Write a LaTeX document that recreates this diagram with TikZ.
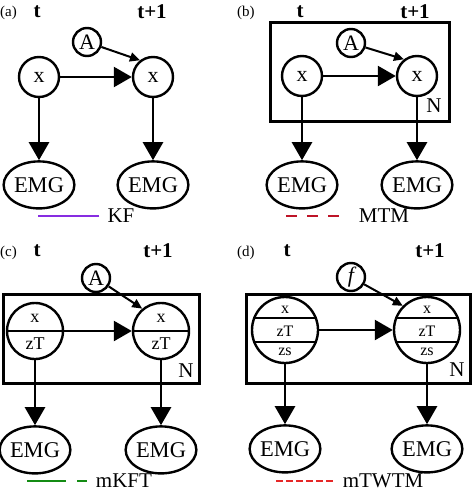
\documentclass[tikz,border=0pt]{standalone}
\usepackage{fontspec}
\setmainfont{Liberation Serif}
\usepackage{xcolor}
\usetikzlibrary{
  positioning,
  calc,
  shapes.geometric,
  arrows.meta,
}
\definecolor{kfcol}{RGB}{135,45,225}
\definecolor{mtmcol}{RGB}{190,20,40}
\definecolor{mkftcol}{RGB}{20,140,20}
\definecolor{twtmcol}{RGB}{230,40,40}
\tikzset{
  var node/.style={
    draw,
    black,
    line width=2.4pt,
    circle,
    inner sep=0pt,
    minimum size=40pt,
    font=\fontsize{22}{22}\selectfont
  },
  param/.style={
    var node,
    minimum size=28pt
  },
  split two/.style={
    var node,
    minimum size=56pt
  },
  split three/.style={
    var node,
    minimum size=66pt
  },
  emg/.style={
    draw,
    line width=2.4pt,
    ellipse,
    inner sep=0pt,
    minimum width=53pt,
    minimum height=47pt,
    font=\fontsize{22.5}{22.5}\selectfont
  },
  plate/.style={draw, line width=3pt},
  big arrow/.style={line width=2.5pt, -{Triangle[length=18pt,width=20pt]}},
  small arrow/.style={line width=2pt, -{Triangle[length=10pt,width=9pt]}},
  time/.style={font=\bfseries\fontsize{21}{21}\selectfont},
  tag/.style={anchor=west, inner sep=0pt, font=\fontsize{15}{15}\selectfont},
  txt/.style={inner sep=0pt, font=\fontsize{21}{21}\selectfont},
  inner txt/.style={inner sep=0pt, font=\fontsize{18}{18}\selectfont},
  small txt/.style={inner sep=0pt, font=\fontsize{16}{16}\selectfont}
}

\begin{document}
\begin{tikzpicture}[x=1pt, y=-1pt]
  \useasboundingbox (0,0) rectangle (474,493);

  %% (a) KF
  \node[tag]  (taga) at (0,13) {(a)};
  \node[time] (ta)   at (37,12) {t};
  \node[time] (ta1)  at (152,12) {t+1};
  \node[var node] (xa1) at (39,77) {x};
  \node[var node] (xa2) at (153,77) {x};
  \node[param] (Aa) at (87,42) {A};
  \node[emg, below=62pt of xa1] (ea1) {EMG};
  \node[emg, below=62pt of xa2] (ea2) {EMG};
  \node[txt] (kf) at (121,216) {KF};

  \draw[big arrow] (xa1) -- (xa2);
  \draw[small arrow] (Aa) -- (xa2.128);
  \draw[big arrow] (xa1) -- (ea1);
  \draw[big arrow] (xa2) -- (ea2);
  \draw[kfcol, line width=2pt] ($(kf.west)+(-8,0)$) -- ++(-61,0);

  %% (b) MTM
  \node[tag]  (tagb) at (237,13) {(b)};
  \node[time] (tb)   at (300,12) {t};
  \node[time] (tb1)  at (415,12) {t+1};
  \draw[plate] (270,22) rectangle (449,121);
  \node[var node] (xb1) at (302,76) {x};
  \node[var node] (xb2) at (417,76) {x};
  \node[param] (Ab) at (351,43) {A};
  \node[txt] (Nb) at (434,106) {N};
  \node[emg, below=63pt of xb1] (eb1) {EMG};
  \node[emg, below=63pt of xb2] (eb2) {EMG};
  \node[txt] (mtm) at (384,216) {MTM};

  \draw[big arrow] (xb1) -- (xb2);
  \draw[small arrow] (Ab) -- (xb2.128);
  \draw[big arrow] (xb1) -- (eb1);
  \draw[big arrow] (xb2) -- (eb2);
  \draw[mtmcol, line width=2pt, dash pattern=on 11pt off 10pt] ($(mtm.west)+(-20,0)$) -- ++(-53,0);

  %% (c) mKFT
  \node[tag]  (tagc) at (0,253) {(c)};
  \node[time] (tc)   at (37,251) {t};
  \node[time] (tc1)  at (158,251) {t+1};
  \draw[plate] (3,294) rectangle (199,383);
  \node[split two] (xc1) at (35,331) {};
  \node[split two] (xc2) at (161,331) {};
  \draw[line width=2.4pt] (xc1.west) -- (xc1.east);
  \draw[line width=2.4pt] (xc2.west) -- (xc2.east);
  \node[inner txt] (xc1x) at (35,318) {x};
  \node[inner txt] (xc1z) at (35,344) {zT};
  \node[inner txt] (xc2x) at (161,318) {x};
  \node[inner txt] (xc2z) at (161,344) {zT};
  \node[param] (Ac) at (96,278) {A};
  \node[txt] (Nc) at (186,371) {N};
  \node[emg, below=65pt of xc1] (ec1) {EMG};
  \node[emg, below=65pt of xc2] (ec2) {EMG};
  \node[txt] (mkft) at (124,481) {mKFT};

  \draw[big arrow] (xc1) -- (xc2);
  \draw[small arrow] (Ac) -- (xc2.130);
  \draw[big arrow] (xc1) -- (ec1);
  \draw[big arrow] (xc2) -- (ec2);
  \draw[mkftcol, line width=2pt] ($(mkft.west)+(-9,0)$) -- ++(-10,0);
  \draw[mkftcol, line width=2pt] ($(mkft.west)+(-30,0)$) -- ++(-39,0);

  %% (d) mTWTM
  \node[tag]  (tagd) at (237,253) {(d)};
  \node[time] (td)   at (287,251) {t};
  \node[time] (td1)  at (430,251) {t+1};
  \draw[plate] (246,294) rectangle (470,383);
  \node[split three] (xd1) at (285,330) {};
  \node[split three] (xd2) at (427,330) {};
  \foreach \n in {xd1, xd2} {
    \draw[line width=2.4pt] (\n.21) -- (\n.159);
    \draw[line width=2.4pt] (\n.-21) -- (\n.-159);
  }
  \node[small txt] (xd1x) at (285,310) {x};
  \node[small txt] (xd1z) at (285,331) {zT};
  \node[small txt] (xd1s) at (285,352) {zs};
  \node[small txt] (xd2x) at (427,310) {x};
  \node[small txt] (xd2z) at (427,331) {zT};
  \node[small txt] (xd2s) at (427,352) {zs};
  \node[param] (fd) at (351,277) {\itshape f};
  \node[txt] (Nd) at (457,370) {N};
  \node[emg, below=60pt of xd1] (ed1) {EMG};
  \node[emg, below=60pt of xd2] (ed2) {EMG};
  \node[txt] (twtm) at (383,481) {mTWTM};

  \draw[big arrow] (xd1) -- (xd2);
  \draw[small arrow] (fd) -- (xd2.135);
  \draw[big arrow] (xd1) -- (ed1);
  \draw[big arrow] (xd2) -- (ed2);
  \draw[twtmcol, line width=2pt, dash pattern=on 7pt off 3pt] ($(twtm.west)+(-10,0)$) -- ++(-60,0);
\end{tikzpicture}
\end{document}
